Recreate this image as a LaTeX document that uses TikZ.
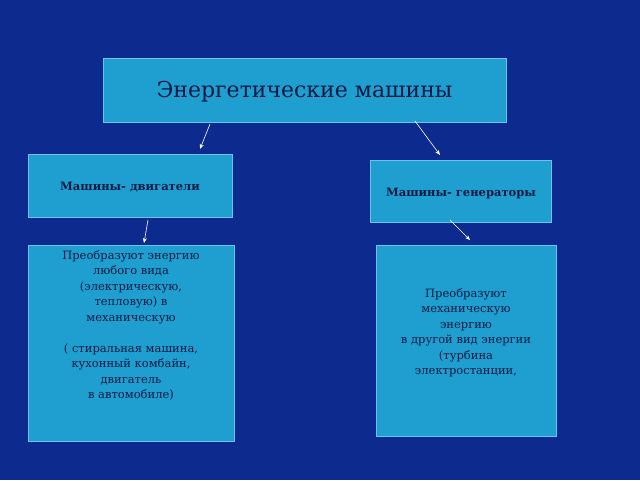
\documentclass[tikz,border=0pt]{standalone}
\usepackage{fontspec}
\usetikzlibrary{arrows.meta}
\setmainfont{DejaVu Serif}
\begin{document}
\begin{tikzpicture}[x=1pt,y=-1pt,
 box/.style={draw=bord,fill=boxc,line width=1pt},
 txt/.style={text=txtc,align=center,inner sep=0pt},
 arr/.style={draw=white,line width=0.6pt,-{Stealth[length=5pt,width=4pt]}}]
\definecolor{bg}{HTML}{0D2A8F}
\definecolor{boxc}{HTML}{1E9FD0}
\definecolor{bord}{HTML}{6EC0EE}
\definecolor{txtc}{HTML}{0A1A45}
\fill[bg] (0,0) rectangle (640,480);
\useasboundingbox (0,0) rectangle (640,480);
\draw[box] (103,58) rectangle (506,122);
\node[txt,font=\fontsize{22}{26}\selectfont] (t) at (304.5,92) {Энергетические машины};
\draw[box] (28,154) rectangle (232,217);
\node[txt,font=\fontsize{11.5}{14}\selectfont\bfseries] (l) at (130,187) {Машины- двигатели};
\draw[box] (370,160) rectangle (551,222);
\node[txt,font=\fontsize{11.5}{14}\selectfont\bfseries] (r) at (461,193) {Машины- генераторы};
\draw[box] (28,245) rectangle (234,441);
\node[txt,font=\fontsize{11.5}{15.5}\selectfont,anchor=north] (bl) at (131,250) {Преобразуют энергию\\ любого вида\\(электрическую,\\тепловую) в\\механическую\\[15.5pt]( стиральная машина,\\кухонный комбайн,\\двигатель\\в автомобиле)};
\draw[box] (376,245) rectangle (556,436);
\node[txt,font=\fontsize{11.5}{15.5}\selectfont,anchor=north] (br) at (466,288) {Преобразуют\\механическую\\энергию\\в другой вид энергии\\(турбина\\электростанции,};
\coordinate (a1s) at (210,124); \coordinate (a1e) at (200,149);
\coordinate (a2s) at (415,121); \coordinate (a2e) at (440,155);
\coordinate (a3s) at (148,220); \coordinate (a3e) at (144,243);
\coordinate (a4s) at (450,220); \coordinate (a4e) at (470,240);
\draw[arr] (a1s)--(a1e); \draw[arr] (a2s)--(a2e);
\draw[arr] (a3s)--(a3e); \draw[arr] (a4s)--(a4e);
\end{tikzpicture}
\end{document}
